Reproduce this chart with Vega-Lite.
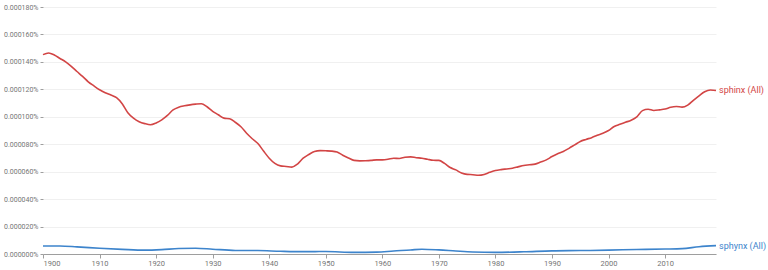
{
  "$schema": "https://vega.github.io/schema/vega-lite/v6.json",
  "autosize": "none",
  "width": 673,
  "height": 247,
  "padding": {"left": 43, "top": 7, "right": 52, "bottom": 16},
  "background": "white",
  "config": {"view": {"stroke": null}, "font": "Roboto"},
  "datasets": {
    "sphinx": [
      {"year":1900,"v":145.3},{"year":1901,"v":146.5},{"year":1902,"v":145},{"year":1903,"v":142.5},{"year":1904,"v":140},
      {"year":1905,"v":136.7},{"year":1906,"v":133},{"year":1907,"v":129.4},{"year":1908,"v":125.5},{"year":1909,"v":122.5},
      {"year":1910,"v":119.7},{"year":1911,"v":117.5},{"year":1912,"v":115.8},{"year":1913,"v":113.9},{"year":1914,"v":109.5},
      {"year":1915,"v":103},{"year":1916,"v":99},{"year":1917,"v":96.4},{"year":1918,"v":95},{"year":1919,"v":94.2},
      {"year":1920,"v":95.5},{"year":1921,"v":97.8},{"year":1922,"v":101},{"year":1923,"v":105},{"year":1924,"v":107},
      {"year":1925,"v":108},{"year":1926,"v":108.7},{"year":1927,"v":109.2},{"year":1928,"v":109.5},{"year":1929,"v":107.3},
      {"year":1930,"v":104},{"year":1931,"v":101.5},{"year":1932,"v":99},{"year":1933,"v":98.6},{"year":1934,"v":96},
      {"year":1935,"v":92.7},{"year":1936,"v":88},{"year":1937,"v":84},{"year":1938,"v":80.5},{"year":1939,"v":75},
      {"year":1940,"v":69.8},{"year":1941,"v":66},{"year":1942,"v":64.2},{"year":1943,"v":63.8},{"year":1944,"v":63.3},
      {"year":1945,"v":65.5},{"year":1946,"v":69.8},{"year":1947,"v":72.5},{"year":1948,"v":74.7},{"year":1949,"v":75.3},
      {"year":1950,"v":75.2},{"year":1951,"v":75},{"year":1952,"v":74.3},{"year":1953,"v":72},{"year":1954,"v":70},
      {"year":1955,"v":68.2},{"year":1956,"v":67.9},{"year":1957,"v":68},{"year":1958,"v":68.2},{"year":1959,"v":68.6},
      {"year":1960,"v":68.6},{"year":1961,"v":69},{"year":1962,"v":69.8},{"year":1963,"v":69.6},{"year":1964,"v":70.5},
      {"year":1965,"v":70.8},{"year":1966,"v":70.2},{"year":1967,"v":69.8},{"year":1968,"v":69},{"year":1969,"v":68.3},
      {"year":1970,"v":68.2},{"year":1971,"v":66},{"year":1972,"v":63},{"year":1973,"v":61.3},{"year":1974,"v":59},
      {"year":1975,"v":58},{"year":1976,"v":57.8},{"year":1977,"v":57.4},{"year":1978,"v":58},{"year":1979,"v":59.5},
      {"year":1980,"v":60.8},{"year":1981,"v":61.5},{"year":1982,"v":62},{"year":1983,"v":62.5},{"year":1984,"v":63.5},
      {"year":1985,"v":64.5},{"year":1986,"v":65},{"year":1987,"v":65.5},{"year":1988,"v":67},{"year":1989,"v":68.6},
      {"year":1990,"v":71},{"year":1991,"v":73},{"year":1992,"v":74.7},{"year":1993,"v":77},{"year":1994,"v":79.5},
      {"year":1995,"v":82},{"year":1996,"v":83.5},{"year":1997,"v":84.8},{"year":1998,"v":86.5},{"year":1999,"v":88},
      {"year":2000,"v":90},{"year":2001,"v":92.9},{"year":2002,"v":94.5},{"year":2003,"v":96},{"year":2004,"v":97.5},
      {"year":2005,"v":100},{"year":2006,"v":104.5},{"year":2007,"v":105.5},{"year":2008,"v":104.6},{"year":2009,"v":105},
      {"year":2010,"v":105.6},{"year":2011,"v":107},{"year":2012,"v":107.5},{"year":2013,"v":107},{"year":2014,"v":108.5},
      {"year":2015,"v":112},{"year":2016,"v":115.3},{"year":2017,"v":118.3},{"year":2018,"v":119.5},{"year":2019,"v":119.2}
    ],
    "sphynx": [
      {"year":1900,"v":5.8},{"year":1903,"v":5.8},{"year":1906,"v":5.2},{"year":1910,"v":4.2},{"year":1914,"v":3.4},
      {"year":1918,"v":2.8},{"year":1921,"v":3.2},{"year":1924,"v":4},{"year":1927,"v":4.2},{"year":1930,"v":3.5},
      {"year":1934,"v":2.6},{"year":1938,"v":2.5},{"year":1942,"v":2},{"year":1946,"v":1.7},{"year":1950,"v":1.8},
      {"year":1955,"v":1.2},{"year":1959,"v":1.4},{"year":1962,"v":2.2},{"year":1965,"v":2.9},{"year":1967,"v":3.5},
      {"year":1970,"v":3},{"year":1973,"v":2.2},{"year":1976,"v":1.5},{"year":1980,"v":1.2},{"year":1985,"v":1.6},
      {"year":1990,"v":2.3},{"year":1995,"v":2.5},{"year":2000,"v":2.8},{"year":2005,"v":3.3},{"year":2010,"v":3.6},
      {"year":2013,"v":3.9},{"year":2016,"v":5.3},{"year":2019,"v":6.1}
    ]
  },
  "encoding": {
    "x": {"field": "year", "type": "quantitative",
      "scale": {"domain": [1900, 2019], "nice": false, "zero": false},
      "axis": {"title": null, "values": [1900,1910,1920,1930,1940,1950,1960,1970,1980,1990,2000,2010],
        "format": "d", "grid": false, "domainColor": "#9e9e9e", "tickColor": "#9e9e9e", "tickSize": 4,
        "labelColor": "#757575", "labelFontSize": 7.5, "labelPadding": 1, "labelFont": "Roboto"}},
    "y": {"field": "v", "type": "quantitative",
      "scale": {"domain": [0, 180], "nice": false},
      "axis": {"title": null, "values": [0,20,40,60,80,100,120,140,160,180],
        "labelExpr": "format(datum.value/1000000, '.6f') + '%'",
        "grid": true, "gridColor": "#f0f0f0", "domain": false, "tickColor": "#9e9e9e", "tickSize": 3,
        "labelColor": "#757575", "labelFontSize": 7, "labelPadding": 2, "labelFont": "Roboto"}}
  },
  "layer": [
    {"data": {"name": "sphinx"}, "mark": {"type": "line", "interpolate": "monotone", "color": "#d24545", "strokeWidth": 1.6}},
    {"data": {"name": "sphynx"}, "mark": {"type": "line", "interpolate": "monotone", "color": "#3d84cc", "strokeWidth": 1.6}},
    {"data": {"name": "sphinx"}, "transform": [{"filter": "datum.year == 2019"}],
      "mark": {"type": "text", "align": "left", "dx": 3, "color": "#d24545", "fontSize": 9, "font": "Roboto"},
      "encoding": {"text": {"value": "sphinx (All)"}}},
    {"data": {"name": "sphynx"}, "transform": [{"filter": "datum.year == 2019"}],
      "mark": {"type": "text", "align": "left", "dx": 3, "color": "#3d84cc", "fontSize": 9, "font": "Roboto"},
      "encoding": {"text": {"value": "sphynx (All)"}}}
  ]
}
